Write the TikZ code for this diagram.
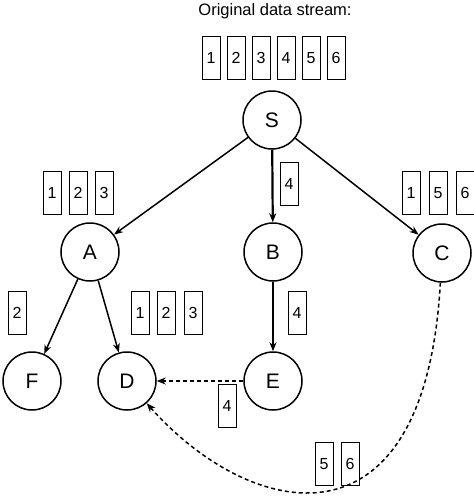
\documentclass[tikz,border=0pt]{standalone}
\usepackage{fontspec}
\setmainfont{Liberation Sans}
\usetikzlibrary{arrows.meta}
\begin{document}
\begin{tikzpicture}[x=1pt,y=-1pt,
  station/.style={draw,circle,line width=1.5pt,minimum size=58pt,inner sep=0pt,
    font=\fontsize{21}{21}\selectfont},
  packet/.style={draw,line width=0.9pt,minimum width=18pt,minimum height=43pt,
    inner sep=0pt,font=\fontsize{16}{16}\selectfont},
  link/.style={line width=1.5pt,-{Stealth[length=9pt,width=7pt]}},
  lost/.style={link,dash pattern=on 4pt off 3pt}]
  \useasboundingbox (0,0) rectangle (474,501);
  % stations
  \node[station] (S) at (272,120) {S};
  \node[station] (A) at (90,252) {A};
  \node[station] (B) at (273,252) {B};
  \node[station] (C) at (442,253) {C};
  \node[station] (F) at (32,381) {F};
  \node[station] (D) at (127,381) {D};
  \node[station] (E) at (273,381) {E};
  % packets
  \node[font=\fontsize{16.5}{16.5}\selectfont] (title) at (275,11) {Original data stream:};
  \foreach \n [count=\i] in {1,...,6}
    \node[packet] (src\i) at ({186+25*\i},58) {\n};
  \foreach \n/\x in {1/52,2/78,3/104}
    \node[packet] (atA\n) at (\x,193) {\n};
  \node[packet] (atSB) at (289,184) {4};
  \foreach \n/\x in {1/411,5/438,6/465}
    \node[packet] (atC\n) at (\x,193) {\n};
  \node[packet] (atF) at (17,313) {2};
  \foreach \n/\x in {1/140,2/166,3/193}
    \node[packet] (atD\n) at (\x,313) {\n};
  \node[packet] (atBE) at (297,313) {4};
  \node[packet] (atED) at (227,406) {4};
  \foreach \n/\x in {5/324,6/350}
    \node[packet] (lost\n) at (\x,464) {\n};
  % links
  \draw[link] (S) -- (A);
  \draw[link,line width=2.2pt] (S) -- (B);
  \draw[link] (S) -- (C);
  \draw[link] (A) -- (F);
  \draw[link] (A) -- (D);
  \draw[link] (B) -- (E);
  \draw[lost] (E) -- (D);
  \draw[lost] (C) .. controls (425,560) and (250,520) .. (D);
\end{tikzpicture}
\end{document}
